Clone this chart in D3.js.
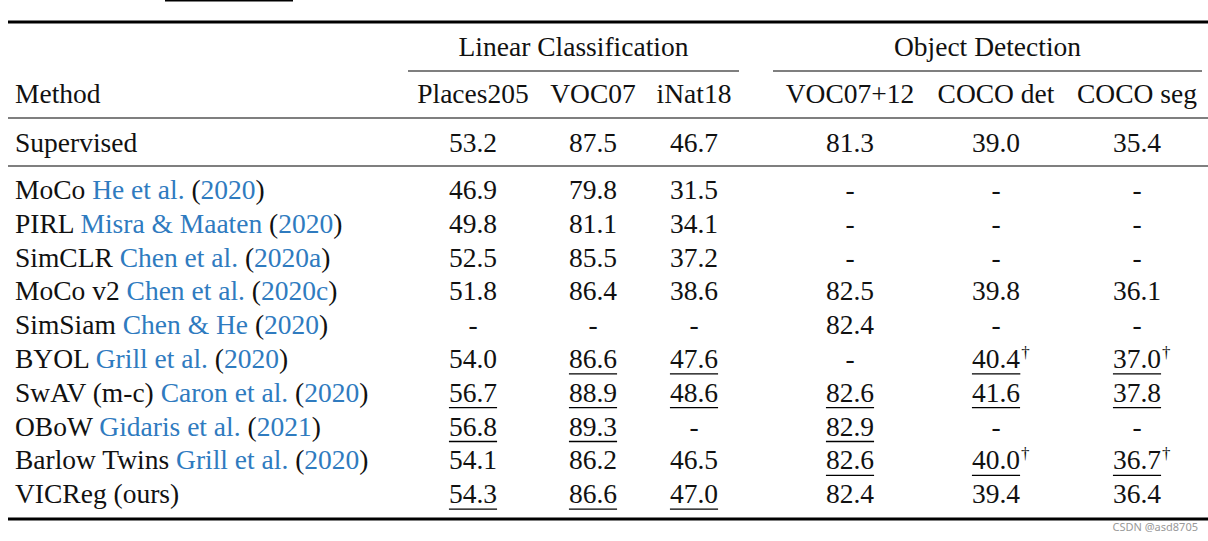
<!DOCTYPE html>
<html><head><meta charset="utf-8">
<script src="https://cdn.jsdelivr.net/npm/d3@7/dist/d3.min.js"></script>
<style>body{margin:0;background:#fff} text{font-family:"Liberation Serif","Times New Roman","DejaVu Serif",serif}</style></head>
<body><svg id="c" width="1208" height="541"></svg>
<script>
const columns = ["Places205","VOC07","iNat18","VOC07+12","COCO det","COCO seg"];
const groups = [{name:"Linear Classification", cols:[0,2]},{name:"Object Detection", cols:[3,5]}];
const methods = ["MoCo","PIRL","SimCLR","MoCo v2","SimSiam","BYOL","SwAV (m-c)","OBoW","Barlow Twins","VICReg (ours)"];
const citeAuthors = ["He et al.","Misra & Maaten","Chen et al.","Chen et al.","Chen & He","Grill et al.","Caron et al.","Gidaris et al.","Grill et al.",""];
const citeYears = ["2020","2020","2020a","2020c","2020","2020","2020","2021","2020",""];
const supervised = ["53.2","87.5","46.7","81.3","39.0","35.4"];
const values = [
 ["46.9","79.8","31.5","-","-","-"],
 ["49.8","81.1","34.1","-","-","-"],
 ["52.5","85.5","37.2","-","-","-"],
 ["51.8","86.4","38.6","82.5","39.8","36.1"],
 ["-","-","-","82.4","-","-"],
 ["54.0","86.6","47.6","-","40.4†","37.0†"],
 ["56.7","88.9","48.6","82.6","41.6","37.8"],
 ["56.8","89.3","-","82.9","-","-"],
 ["54.1","86.2","46.5","82.6","40.0†","36.7†"],
 ["54.3","86.6","47.0","82.4","39.4","36.4"]];
const underlined = [
 [0,0,0,0,0,0],[0,0,0,0,0,0],[0,0,0,0,0,0],[0,0,0,0,0,0],[0,0,0,0,0,0],
 [0,1,1,0,1,1],[1,1,1,1,1,1],[1,1,0,1,0,0],[0,0,0,1,1,1],[1,1,1,0,0,0]];

const svg = d3.select("#c");
const FS = 27.5, BLUE = "#2f7bbf";
const x = d3.scaleOrdinal().domain(columns).range([473,593,694,850,996,1137]);
const y = d3.scaleBand().domain(d3.range(methods.length)).range([174,512]);
const txt = (xx,yy,s,anchor="middle") => svg.append("text").attr("x",xx).attr("y",yy)
  .attr("font-size",FS).attr("text-anchor",anchor).attr("fill","#111").text(s);
const hline = (x1,x2,yy,w) => svg.append("line").attr("x1",x1).attr("x2",x2).attr("y1",yy).attr("y2",yy).attr("stroke","#000").attr("stroke-width",w);

hline(165,293,0.5,2);
hline(8,1208,22,3);
groups.forEach((g,i)=>{
  const a = i==0?408:773, b = i==0?739:1202;
  txt((a+b)/2,56,g.name);
  hline(a,b,71,1.2);
});
txt(15,103,"Method","start");
columns.forEach(c=>txt(x(c),103,c));
hline(8,1208,118,1.2);
txt(15,152,"Supervised","start");
supervised.forEach((v,j)=>txt(x(columns[j]),152,v));
hline(8,1208,166,1.2);

function cell(cx, cy, v, u){
  const dag = v.endsWith("†");
  const num = dag ? v.slice(0,-1) : v;
  const t = txt(cx, cy, num);
  const bb = t.node().getBBox();
  if(dag){
    svg.append("text").attr("x",bb.x+bb.width+1).attr("y",cy-10)
      .attr("font-size",17).attr("fill","#111").text("†");
  }
  if(u) hline(bb.x, bb.x+bb.width, cy+6, 1.3);
}
methods.forEach((m,i)=>{
  const cy = y(i)+y.bandwidth()/2+8;
  const t = svg.append("text").attr("x",15).attr("y",cy).attr("font-size",FS).attr("fill","#111");
  t.append("tspan").text(m);
  if(citeAuthors[i]){
    t.append("tspan").attr("fill",BLUE).text(" "+citeAuthors[i]+" ");
    t.append("tspan").text("(");
    t.append("tspan").attr("fill",BLUE).text(citeYears[i]);
    t.append("tspan").text(")");
  }
  values[i].forEach((v,j)=>cell(x(columns[j]),cy,v,underlined[i][j]));
});
hline(8,1208,519,3);
svg.append("text").attr("x",1198).attr("y",531).attr("text-anchor","end").style("font-family","'Noto Sans',sans-serif")
  .attr("font-size",11).attr("fill","#999").text("CSDN @asd8705");
</script></body></html>
